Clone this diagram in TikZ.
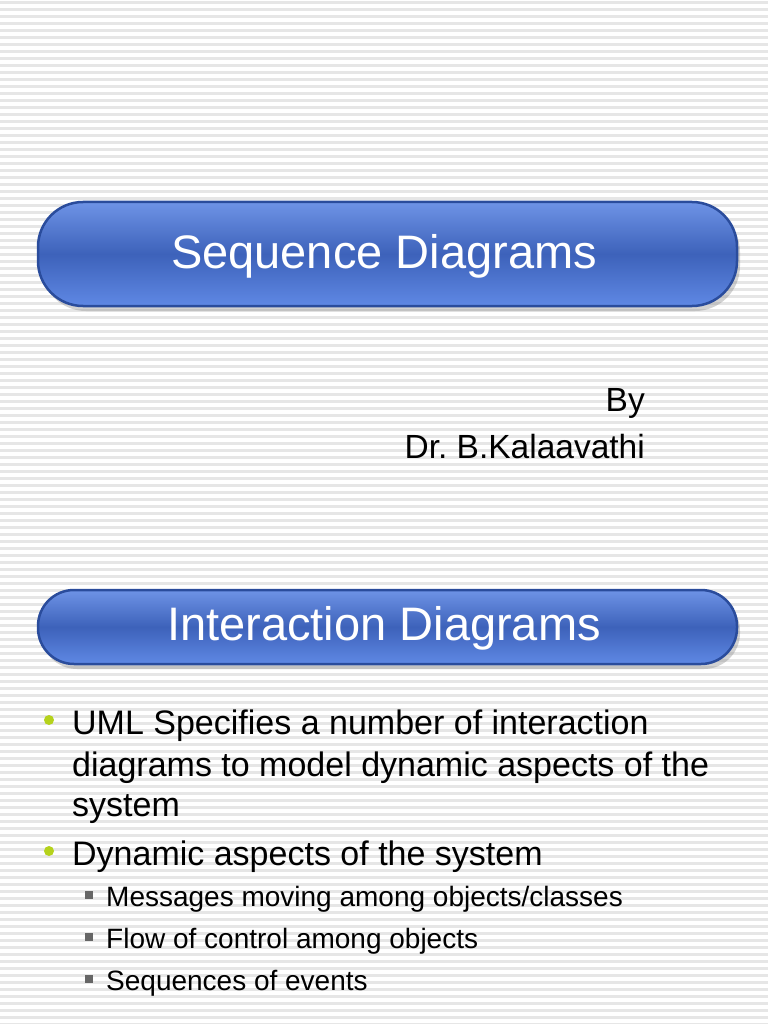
\documentclass[tikz,border=0pt]{standalone}
\usepackage{fontspec}
\setmainfont{Liberation Sans}
\usetikzlibrary{shadows}
\definecolor{stripe}{HTML}{E6E6E6}
\definecolor{bord}{HTML}{2A4C9C}
\definecolor{btop}{HTML}{6E93E6}
\definecolor{bmid}{HTML}{3D62BA}
\definecolor{bbot}{HTML}{5F88E4}
\definecolor{bul}{HTML}{B5D21C}
\tikzset{
 banner/.style={draw=bord,line width=2.5pt,rounded corners=45pt,top color=btop,bottom color=bbot,middle color=bmid,drop shadow={shadow xshift=3pt,shadow yshift=-5pt,opacity=0.35}},
 btext/.style={text=white,font=\fontsize{47}{56}\selectfont},
 body/.style={anchor=base west,font=\fontsize{34}{40}\selectfont,inner sep=0pt},
 sub/.style={anchor=base west,font=\fontsize{28}{34}\selectfont,inner sep=0pt},
}
\frenchspacing
\begin{document}
\begin{tikzpicture}[x=1pt,y=-1pt]
\useasboundingbox (0,0) rectangle (768,1024);
\fill[white] (0,0) rectangle (768,1024);
\foreach \i in {0,...,146} {\fill[stripe] (0,\i*7+1) rectangle (768,\i*7+4);}
\node[banner,minimum width=699pt,minimum height=104pt] (b1) at (387.5,254) {};
\node[btext] (t1) at (384,256) {\frenchspacing Sequence Diagrams};
\node[banner,rounded corners=36pt,minimum width=699pt,minimum height=74pt] (b2) at (387.5,627) {};
\node[btext] (t2) at (384,628) {Interaction Diagrams};
\node[anchor=base east,font=\fontsize{33.5}{40}\selectfont,inner sep=0pt] (by) at (645,411) {By};
\node[anchor=base east,font=\fontsize{33.5}{40}\selectfont,inner sep=0pt] (dr) at (645,458) {\frenchspacing Dr. B.Kalaavathi};
\fill[bul] (49,720) circle (5pt);
\node[body] (l1) at (72,734) {UML Specifies a number of interaction};
\node[body] (l2) at (72,776) {diagrams to model dynamic aspects of the};
\node[body] (l3) at (72,816) {system};
\fill[bul] (49,851) circle (5pt);
\node[body] (l4) at (72,865) {Dynamic aspects of the system};
\foreach \y/\t in {906/{Messages moving among objects/classes},948/{Flow of control among objects},990/{Sequences of events}}{
 \fill[gray!80!black] (85,\y-15) rectangle (93,\y-7);
 \node[sub] at (106,\y) {\t};
}
\end{tikzpicture}
\end{document}
